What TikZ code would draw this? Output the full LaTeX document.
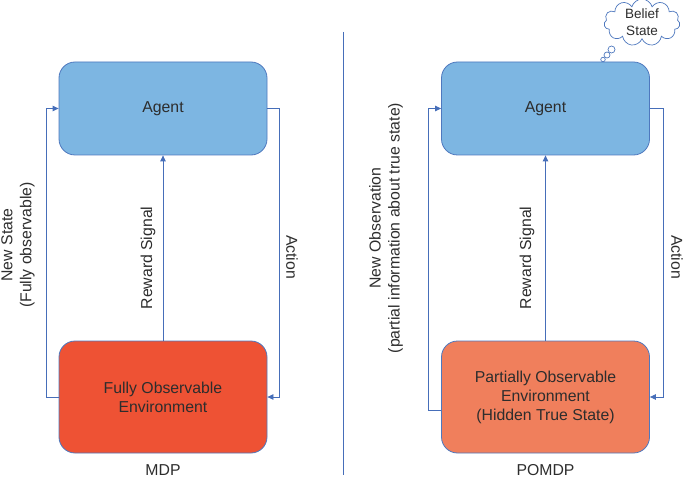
\documentclass[tikz,border=0pt]{standalone}
\usepackage{fontspec}
\setmainfont{Liberation Sans}
\usetikzlibrary{arrows.meta,shapes.symbols,calc}
\definecolor{agentfill}{RGB}{125,182,226}
\definecolor{boxline}{RGB}{78,120,190}
\definecolor{linkc}{RGB}{70,110,185}
\definecolor{envA}{RGB}{238,82,52}
\definecolor{envB}{RGB}{240,127,92}
\definecolor{txt}{RGB}{45,45,45}
\begin{document}
\begin{tikzpicture}[x=1pt,y=-1pt,
  every node/.style={text=txt,font=\fontsize{15.8}{19}\selectfont},
  box/.style={draw=boxline,line width=0.8pt,rounded corners=16pt,minimum width=208pt,align=center},
  agentbox/.style={box,fill=agentfill,minimum height=93pt},
  envbox/.style={box,minimum height=112pt},
  link/.style={draw=linkc,line width=0.8pt},
  arr/.style={link,-{Triangle[length=6pt,width=5.5pt]}},
  bub/.style={circle,draw=boxline,fill=white,line width=0.7pt,inner sep=0pt},
  lbl/.style={align=center,inner sep=0pt}]
\path[use as bounding box] (0,0) rectangle (685,481);
% left (MDP)
\node[agentbox] (agL) at (163,108.5) {Agent};
\node[envbox,fill=envA] (envL) at (163,397) {Fully Observable\\Environment};
\draw[arr] (envL.west) -- ++(-12,0) |- (agL.west);
\draw[arr] (agL.east) -- ++(12,0) |- (envL.east);
\draw[arr] (envL.north) -- (agL.south);
\node[lbl,rotate=90] (nsL) at (18,245) {New State\\(Fully observable)};
\node[lbl,rotate=90] (rwL) at (148,258) {Reward Signal};
\node[lbl,rotate=-90] (acL) at (292,257) {Action};
\node[lbl] (mdp) at (163,470) {MDP};
% divider
\coordinate (dT) at (343,32);
\coordinate (dB) at (343,475);
\draw[link] (dT) -- (dB);
% right (POMDP)
\node[agentbox] (agR) at (545.5,108.5) {Agent};
\node[envbox,fill=envB] (envR) at (545.5,397) {Partially Observable\\Environment\\(Hidden True State)};
\draw[arr] ([yshift=-13pt]envR.west) -- ++(-13,0) |- (agR.west);
\draw[arr] (agR.east) -- ++(13,0) |- (envR.east);
\draw[arr] (envR.north) -- (agR.south);
\node[lbl,rotate=90] (noR) at (386,228) {New Observation\\(partial information about true state)};
\node[lbl,rotate=90] (rwR) at (527,258) {Reward Signal};
\node[lbl,rotate=-90] (acR) at (677,257) {Action};
\node[lbl] (pomdp) at (545.5,470) {POMDP};
% belief cloud
\node[cloud,cloud puffs=11,cloud ignores aspect,draw=boxline,fill=white,line width=0.7pt,minimum width=76pt,minimum height=41pt,inner sep=0pt,align=center,font=\fontsize{13.5}{17}\selectfont] (bel) at (642,22.5) {Belief\\State};
\node[bub,minimum size=7pt] (b1) at (611.5,49.5) {};
\node[bub,minimum size=6pt] (b2) at (607,55) {};
\node[bub,minimum size=4.5pt] (b3) at (603,59.5) {};
\end{tikzpicture}
\end{document}
